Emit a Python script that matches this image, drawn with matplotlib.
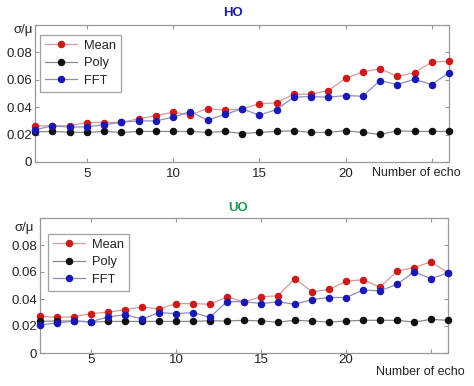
import matplotlib
matplotlib.use("Agg")
import matplotlib.pyplot as plt

plt.rcParams['font.family'] = ['Liberation Sans', 'DejaVu Sans']

echo = list(range(2, 27))

ho_mean = [0.0264, 0.0264, 0.0264, 0.0288, 0.0288, 0.0290, 0.0315, 0.0337, 0.0364, 0.0344,
           0.0390, 0.0378, 0.0388, 0.0424, 0.0432, 0.0495, 0.0495, 0.0521, 0.0611, 0.0657,
           0.0681, 0.0625, 0.0652, 0.0730, 0.0735]
ho_poly = [0.0220, 0.0223, 0.0218, 0.0216, 0.0223, 0.0216, 0.0223, 0.0223, 0.0223, 0.0223,
           0.0216, 0.0223, 0.0208, 0.0216, 0.0223, 0.0228, 0.0216, 0.0216, 0.0228, 0.0216,
           0.0201, 0.0228, 0.0223, 0.0223, 0.0223]
ho_fft = [0.0235, 0.0264, 0.0255, 0.0257, 0.0272, 0.0290, 0.0300, 0.0300, 0.0327, 0.0368,
          0.0305, 0.0347, 0.0388, 0.0342, 0.0383, 0.0473, 0.0478, 0.0473, 0.0485, 0.0480,
          0.0594, 0.0565, 0.0604, 0.0565, 0.0652]

uo_mean = [0.0272, 0.0264, 0.0269, 0.0292, 0.0302, 0.0321, 0.0341, 0.0326, 0.0366, 0.0366,
           0.0361, 0.0416, 0.0379, 0.0416, 0.0424, 0.0551, 0.0454, 0.0471, 0.0531, 0.0543,
           0.0488, 0.0606, 0.0633, 0.0675, 0.0593]
uo_poly = [0.0234, 0.0237, 0.0237, 0.0229, 0.0234, 0.0234, 0.0234, 0.0234, 0.0234, 0.0234,
           0.0239, 0.0237, 0.0242, 0.0237, 0.0229, 0.0242, 0.0237, 0.0229, 0.0237, 0.0242,
           0.0242, 0.0242, 0.0229, 0.0249, 0.0242]
uo_fft = [0.0209, 0.0222, 0.0237, 0.0232, 0.0267, 0.0284, 0.0252, 0.0299, 0.0292, 0.0299,
          0.0264, 0.0381, 0.0381, 0.0366, 0.0379, 0.0361, 0.0396, 0.0411, 0.0411, 0.0466,
          0.0461, 0.0508, 0.0601, 0.0551, 0.0593]

series_names = ['Mean', 'Poly', 'FFT']
xticks = [5, 10, 15, 20, 25]
xticklabels = ['5', '10', '15', '20', '']
yticks = [0, 0.02, 0.04, 0.06, 0.08, 0.1]
yticklabels = ['0', '0.02', '0.04', '0.06', '0.08', '']

line_colors = ['#d89a9a', '#8a8a8a', '#8c8cc4']
marker_colors = ['#cc1a1a', '#111111', '#1818b4']

W, H = 474, 386
fig = plt.figure(figsize=(W / 100, H / 100), dpi=100)

def px_axes(l, t, r, b):
    return fig.add_axes([l / W, 1 - b / H, (r - l) / W, (b - t) / H])

def ftext(x, y, s, **kw):
    return fig.text(x / W, 1 - y / H, s, **kw)

ax1 = px_axes(35, 25, 449, 162)
ax2 = px_axes(40, 218, 448, 353)

panels = [
    # axes, data, title, title colour, title pos, legend offset px, xtick pad, sigma pos, xlabel pos
    (ax1, [ho_mean, ho_poly, ho_fft], 'HO', '#1c1c9c', (233, 13), (5, 10), 4, (33, 30), (416, 173)),
    (ax2, [uo_mean, uo_poly, uo_fft], 'UO', '#1f9a55', (238, 208), (8, 16), 1, (34, 228), (420, 372)),
]

for ax, data, title, tcol, tpos, legoff, xpad, spos, lpos in panels:
    for vals, name, lc, mc in zip(data, series_names, line_colors, marker_colors):
        ax.plot(echo, vals, '-', color=lc, lw=0.9, marker='o', markersize=4.4,
                markerfacecolor=mc, markeredgecolor=mc, label=name, clip_on=False,
                zorder=3)
    ax.set_xlim(2, 26)
    ax.set_ylim(0, 0.1)
    ax.set_xticks(xticks)
    ax.set_xticklabels(xticklabels)
    ax.set_yticks(yticks)
    ax.set_yticklabels(yticklabels)
    ax.tick_params(direction='in', top=True, right=True, length=3, width=0.8,
                   color='#999999', labelsize=9.5, labelcolor='#222222')
    ax.tick_params(axis='x', pad=xpad)
    ax.tick_params(axis='y', pad=2)
    for s in ax.spines.values():
        s.set_color('#999999')
        s.set_linewidth(0.9)
    bw = ax.get_position().width * W
    bh = ax.get_position().height * H
    leg = ax.legend(loc='upper left',
                    bbox_to_anchor=(legoff[0] / bw, 1 - legoff[1] / bh),
                    borderaxespad=0, fontsize=9.3, handlelength=2.5,
                    handletextpad=0.55, labelspacing=0.42, borderpad=0.38,
                    fancybox=False, frameon=True)
    leg.get_frame().set_edgecolor('#888888')
    leg.get_frame().set_linewidth(0.9)
    leg.set_zorder(5)
    for t in leg.get_texts():
        t.set_color('#222222')
    ftext(tpos[0], tpos[1], title, color=tcol, fontsize=9.5, fontweight='bold',
          ha='center', va='center')
    ftext(spos[0], spos[1], 'σ/μ', ha='right', va='center', fontsize=9.5,
          color='#222222')
    ftext(lpos[0], lpos[1], 'Number of echo', ha='center', va='center',
          fontsize=9, color='#222222')

fig.savefig('out.png', dpi=100)
